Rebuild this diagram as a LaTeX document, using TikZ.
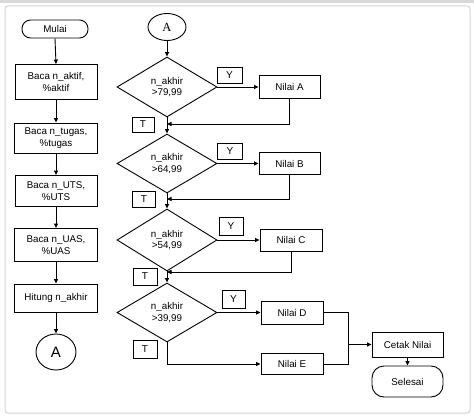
\documentclass[tikz,border=0pt]{standalone}
\usepackage{fontspec}
\setmainfont{Liberation Sans}
\newfontfamily\serifA{Liberation Serif}
\usetikzlibrary{shapes.geometric,arrows.meta,calc}
\begin{document}
\begin{tikzpicture}[x=1pt,y=-1pt,
  txt/.style={font=\fontsize{9.8}{11.5}\selectfont},
  box/.style={draw, rectangle, inner sep=0pt, align=center, line width=0.9pt, txt},
  term/.style={box, rounded corners=8.5pt},
  dec/.style={draw, diamond, inner sep=0pt, align=center, line width=0.9pt, txt, minimum width=100pt},
  lbl/.style={draw, rectangle, inner sep=0pt, line width=0.9pt, font=\fontsize{10}{11}\selectfont},
  arr/.style={-{Triangle[length=4.5pt,width=4pt]}, line width=0.9pt},
  ln/.style={line width=0.9pt}]
\useasboundingbox (0,0) rectangle (474,420);
\fill[gray!30] (0,0) rectangle (474,3);
\draw[gray!35, line width=1pt, rounded corners=3pt] (5,6) rectangle (470,413);
% left column
\node[term, minimum width=66pt, minimum height=18pt] (mulai) at (55,29) {Mulai};
\node[box, minimum width=82pt, minimum height=35pt] (aktif) at (56,82) {Baca n\_aktif,\\\%aktif};
\node[box, minimum width=83pt, minimum height=30pt] (tugas) at (56,138) {Baca n\_tugas,\\\%tugas};
\node[box, minimum width=82pt, minimum height=31pt] (uts) at (56,191) {Baca n\_UTS,\\\%UTS};
\node[box, minimum width=83pt, minimum height=33pt] (uas) at (56,245) {Baca n\_UAS,\\\%UAS};
\node[box, minimum width=83pt, minimum height=28pt] (hitung) at (56,298) {Hitung n\_akhir};
\node[draw, ellipse, inner sep=0pt, line width=0.9pt, minimum width=40pt, minimum height=36pt, font=\fontsize{15}{17}\selectfont] (a1) at (56,352) {A};
\draw[arr] (mulai.south) -- (aktif.north);
\draw[arr] (aktif.south) -- (tugas.north);
\draw[arr] (tugas.south) -- (uts.north);
\draw[arr] (uts.south) -- (uas.north);
\draw[arr] (uas.south) -- (hitung.north);
\draw[arr] (hitung.south) -- (a1.north);
% right column
\node[draw, ellipse, inner sep=0pt, line width=0.9pt, minimum width=38pt, minimum height=27pt, font=\serifA\fontsize{12.5}{14}\selectfont] (a2) at (167,27) {A};
\node[dec, minimum height=60pt] (d1) at (167,87) {n\_akhir\\>79,99};
\node[lbl, minimum width=25pt, minimum height=16pt] (y1) at (229.5,75) {Y};
\node[box, minimum width=61pt, minimum height=23pt] (na) at (289.5,87) {Nilai A};
\node[lbl, minimum width=22pt, minimum height=15pt] (t1) at (143,124.5) {T};
\node[dec, minimum height=59pt] (d2) at (167,163.5) {n\_akhir\\>64,99};
\node[lbl, minimum width=25pt, minimum height=16pt] (y2) at (230,151) {Y};
\node[box, minimum width=61pt, minimum height=22pt] (nb) at (289.5,163.5) {Nilai B};
\node[lbl, minimum width=23pt, minimum height=16pt] (t2) at (144,199) {T};
\node[dec, minimum height=62pt] (d3) at (167,240) {n\_akhir\\>54,99};
\node[lbl, minimum width=24pt, minimum height=18pt] (y3) at (231,226.5) {Y};
\node[box, minimum width=62pt, minimum height=22pt] (nc) at (291,240) {Nilai C};
\node[lbl, minimum width=24pt, minimum height=17pt] (t3) at (145,276.5) {T};
\node[dec, minimum height=59pt] (d4) at (167,312.5) {n\_akhir\\>39,99};
\node[lbl, minimum width=23pt, minimum height=18pt] (y4) at (233.5,299) {Y};
\node[box, minimum width=62pt, minimum height=23pt] (nd) at (292,312.5) {Nilai D};
\node[lbl, minimum width=24pt, minimum height=18pt] (t4) at (145,349) {T};
\node[box, minimum width=62pt, minimum height=21pt] (ne) at (292,364) {Nilai E};
\node[box, minimum width=71pt, minimum height=25pt] (cetak) at (407.5,344.5) {Cetak Nilai};
\node[box, rounded corners=12pt, minimum width=71pt, minimum height=31pt] (selesai) at (407.5,381.5) {Selesai};
\coordinate (j1) at (167,124);
\coordinate (j2) at (167,199);
\coordinate (j3) at (167,272);
\coordinate (m) at (348,344.5);
\draw[arr] (a2.south) -- (d1.north);
\draw[arr] (d1.east) -- (na.west);
\draw[arr] (na.south) |- (j1);
\draw[arr] (d1.south) -- (d2.north);
\draw[arr] (d2.east) -- (nb.west);
\draw[arr] (nb.south) |- (j2);
\draw[arr] (d2.south) -- (d3.north);
\draw[arr] (d3.east) -- (nc.west);
\draw[arr] (nc.south) |- (j3);
\draw[arr] (d3.south) -- (d4.north);
\draw[arr] (d4.east) -- (nd.west);
\draw[arr] (d4.south) |- (ne.west);
\draw[ln] (nd.east) -| (m);
\draw[ln] (ne.east) -| (m);
\draw[arr] (m) -- (cetak.west);
\draw[arr] (cetak.south) -- (selesai.north);
\end{tikzpicture}
\end{document}
